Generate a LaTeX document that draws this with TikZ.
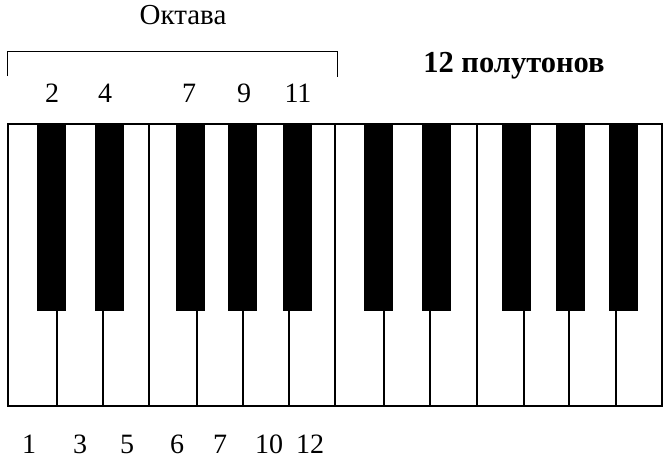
\documentclass[tikz,border=0pt]{standalone}
\usepackage{fontspec}
\setmainfont{Liberation Serif}
\tikzstyle{keyline}=[line width=2pt]
\tikzstyle{keyframe}=[line width=2.6pt]
\tikzstyle{blackkey}=[fill=black]
\tikzstyle{bracket}=[line width=1pt]
\tikzstyle{numtext}=[inner sep=0pt, anchor=base, font=\fontsize{28}{30}\selectfont]
\newcommand{\numtext}{\node[numtext]}

\begin{document}
\begin{tikzpicture}[x=1pt, y=-1pt]
\useasboundingbox (0,0) rectangle (668,458);
% white keys
\foreach \x in {57,103,149,197,243,289,335,384,430,477,524,569,616}
    \draw[keyline] (\x,124) -- (\x,406);
% black keys
\foreach \x in {37,95,176,228,283,364,422,502,556,609}
    \fill[blackkey] (\x,124) rectangle ++(29,187);
\draw[keyframe] (8,124) rectangle (662,406);
% octave bracket
\draw[bracket] (7,76) -- (7,51) -- (337,51) -- (337,77);
\numtext[font=\fontsize{29}{31}\selectfont] (oktava) at (183,24) {Октава};
\numtext[font=\fontsize{30.5}{32}\selectfont\bfseries] (poluton) at (514,72) {12 полутонов};
\foreach \n/\x in {2/52,4/105,7/189,9/244,11/298}
    \numtext (top\n) at (\x,102) {\n};
\foreach \n/\x in {1/29,3/80,5/127,6/177,7/220,10/269,12/310}
    \numtext (bot\n) at (\x,453) {\n};
\end{tikzpicture}
\end{document}
